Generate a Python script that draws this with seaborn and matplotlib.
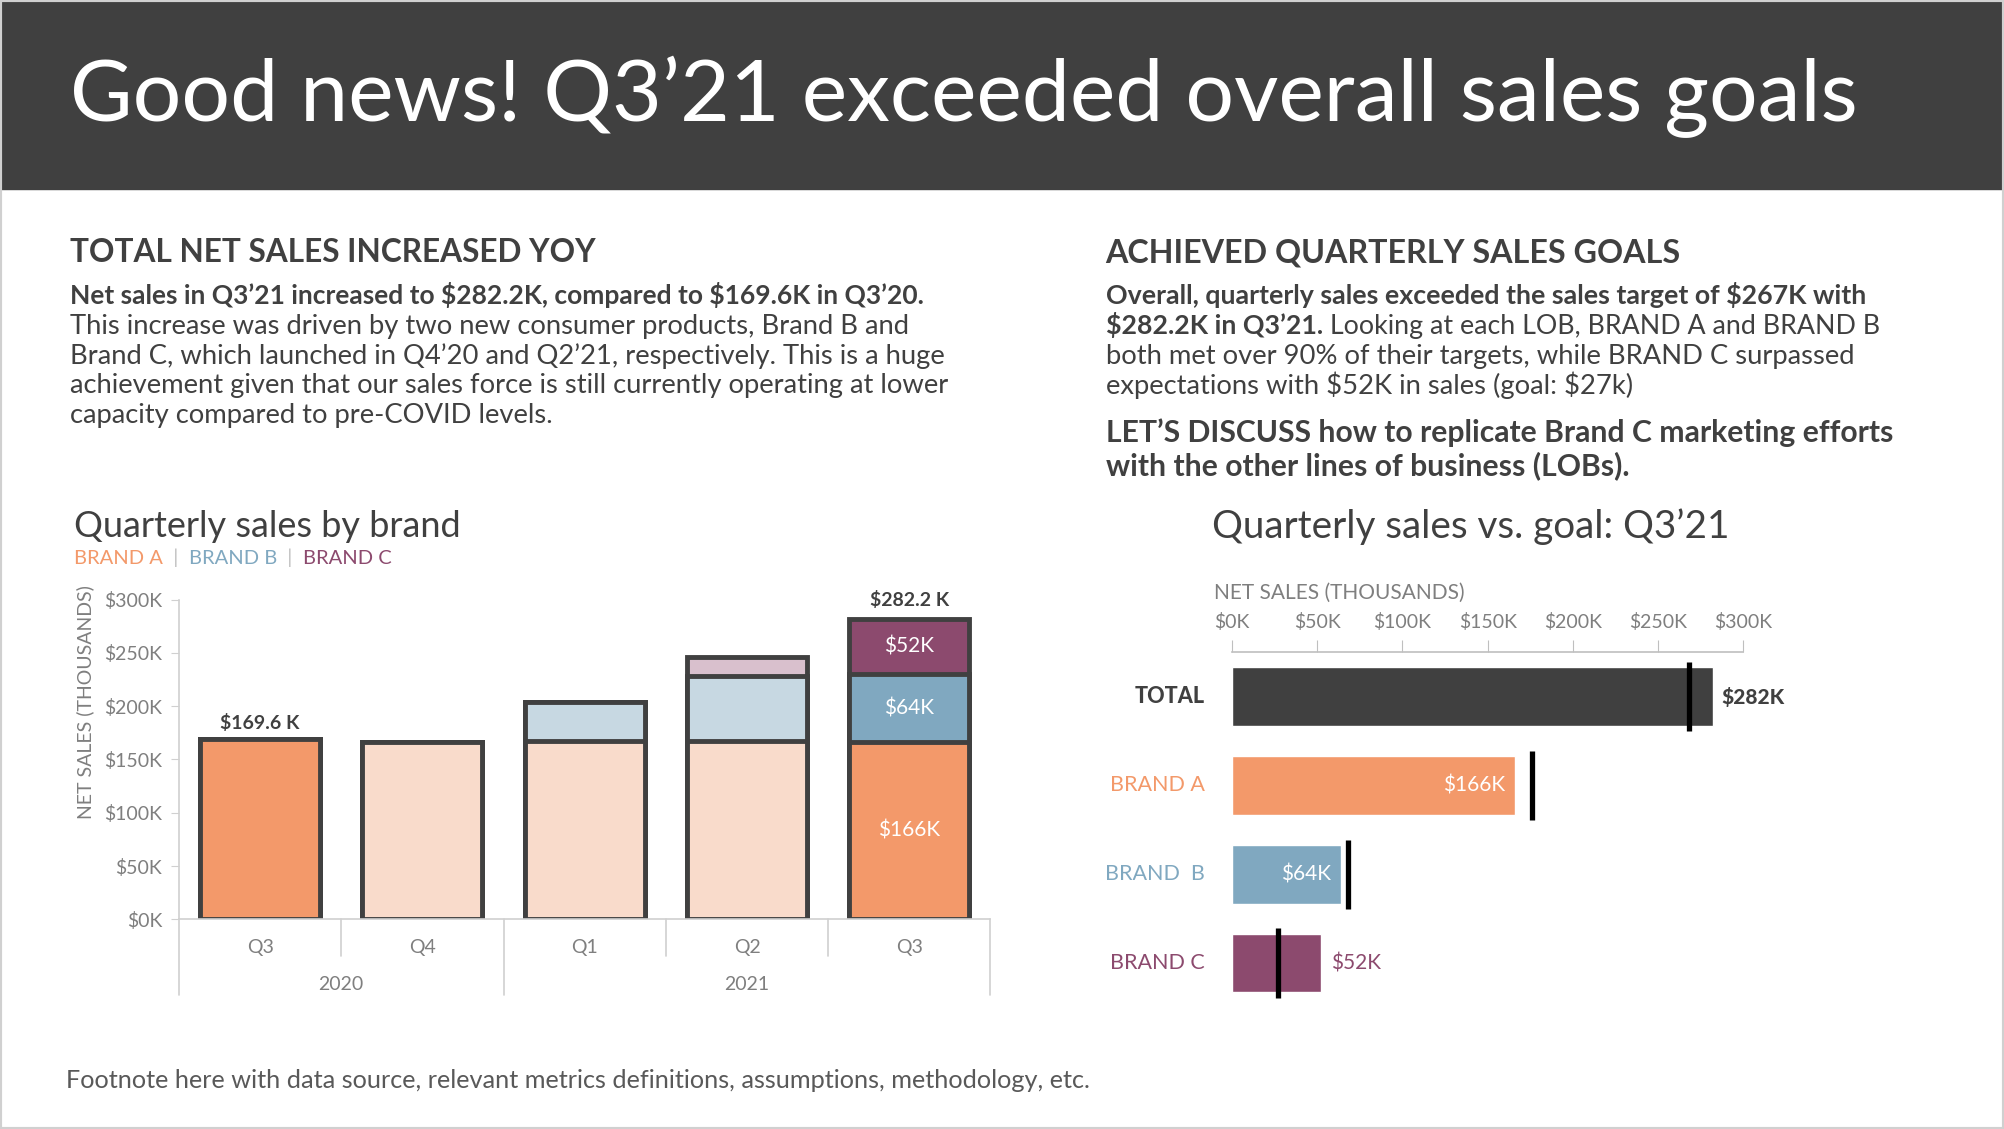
import matplotlib
matplotlib.use("Agg")
import numpy as np
import pandas as pd
import matplotlib.pyplot as plt
from matplotlib.patches import Rectangle
import matplotlib.transforms as mtransforms
import seaborn as sns

# ---- data ----
periods = ["Q3'20", "Q4'20", "Q1'21", "Q2'21", "Q3'21"]
quarter_labels = ["Q3", "Q4", "Q1", "Q2", "Q3"]
year_labels = ["2020", "2021"]
brand_a = [169.6, 166, 167, 167, 166]
brand_b = [0, 0, 37, 61, 64]
brand_c = [0, 0, 0, 18, 52]
highlight = [True, False, False, False, True]
y_ticks = [0, 50, 100, 150, 200, 250, 300]

lob_names = ["TOTAL", "BRAND A", "BRAND  B", "BRAND C"]
lob_sales = [282.2, 166, 64, 52]
lob_goals = [268, 176, 68, 27]
lob_value_labels = ["$282K", "$166K", "$64K", "$52K"]
x_ticks = [0, 50, 100, 150, 200, 250, 300]

# colours
DARK = "#404040"
GREY = "#7F7F7F"
A_DARK, A_LIGHT = "#F3996A", "#F9DBCB"
B_DARK, B_LIGHT = "#80A8C0", "#C7D8E2"
C_DARK, C_LIGHT = "#8C4A6E", "#D9C0CD"

sns.set_style("white")
plt.rcParams["font.family"] = ["Lato", "DejaVu Sans"]
plt.rcParams["text.parse_math"] = False

W, H = 1568, 883  # layout measured on a 1568x883 copy of the slide
def fx(x):
    return x / W
def fy(y):
    return 1 - y / H

fig = plt.figure(figsize=(20.04, 11.29), dpi=100)
renderer = fig.canvas.get_renderer()

def fit_size(text, width, weight="normal"):
    t = fig.text(0, 0, text, fontsize=10, fontweight=weight)
    w = t.get_window_extent(renderer).width
    t.remove()
    return 10 * (width * 2004 / W) / w

def runs(x, y, parts, size):
    for text, weight, color in parts:
        t = fig.text(fx(x), fy(y), text, fontsize=size, fontweight=weight,
                     color=color, va="baseline")
        bb = t.get_window_extent(renderer)
        x = bb.x1 / 2004 * W

# header band + frame
fig.patches.append(Rectangle((0, fy(148)), 1, 1 - fy(148), transform=fig.transFigure,
                             color=DARK, zorder=0))
fig.patches.append(Rectangle((0, 0), 1, 1, transform=fig.transFigure, fill=False,
                             edgecolor="#D0D0D0", lw=3, zorder=5))
title = "Good news! Q3\u201921 exceeded overall sales goals"
fig.text(fx(55), fy(95), title, color="white", va="baseline",
         fontsize=fit_size(title, 1400))

# ---- left text block ----
h1 = "TOTAL NET SALES INCREASED YOY"
fig.text(fx(55), fy(205), h1, color=DARK, fontweight="bold", va="baseline",
         fontsize=fit_size(h1, 413, "bold"))
l_bold = "Net sales in Q3\u201921 increased to $282.2K, compared to $169.6K in Q3\u201920."
l_lines = ["This increase was driven by two new consumer products, Brand B and",
           "Brand C, which launched in Q4\u201920 and Q2\u201921, respectively. This is a huge",
           "achievement given that our sales force is still currently operating at lower",
           "capacity compared to pre-COVID levels."]
fig.text(fx(55), fy(238), l_bold, color=DARK, fontweight="bold", va="baseline",
         fontsize=fit_size(l_bold, 670, "bold"))
body_size = fit_size(l_lines[2], 690)
for i, line in enumerate(l_lines):
    fig.text(fx(55), fy(261 + 23.3 * i), line, color=DARK, va="baseline", fontsize=body_size)

# ---- right text block ----
h2 = "ACHIEVED QUARTERLY SALES GOALS"
fig.text(fx(865), fy(205), h2, color=DARK, fontweight="bold", va="baseline",
         fontsize=fit_size(h2, 449, "bold"))
r_bold = "Overall, quarterly sales exceeded the sales target of $267K with"
bold_size = fit_size(r_bold, 597, "bold")
fig.text(fx(865), fy(238), r_bold, color=DARK, fontweight="bold", va="baseline",
         fontsize=bold_size)
runs(865, 261, [("$282.2K in Q3\u201921.", "bold", DARK),
                (" Looking at each LOB, BRAND A and BRAND B", "normal", DARK)], bold_size)
fig.text(fx(865), fy(285), "both met over 90% of their targets, while BRAND C surpassed",
         color=DARK, va="baseline", fontsize=body_size)
fig.text(fx(865), fy(308), "expectations with $52K in sales (goal: $27k)",
         color=DARK, va="baseline", fontsize=body_size)
d1 = "LET\u2019S DISCUSS how to replicate Brand C marketing efforts"
d_size = fit_size(d1, 617, "bold")
fig.text(fx(865), fy(346), d1, color=DARK, fontweight="bold", va="baseline", fontsize=d_size)
fig.text(fx(865), fy(372), "with the other lines of business (LOBs).", color=DARK,
         fontweight="bold", va="baseline", fontsize=d_size)

# ---- left chart: quarterly sales by brand ----
ct1 = "Quarterly sales by brand"
fig.text(fx(58), fy(420), ct1, color=DARK, va="baseline", fontsize=fit_size(ct1, 304))
runs(58, 441, [("BRAND A", "normal", A_DARK), ("  |  ", "normal", "#BFBFBF"),
               ("BRAND B", "normal", B_DARK), ("  |  ", "normal", "#BFBFBF"),
               ("BRAND C", "normal", C_DARK)], 14.5)
fig.text(fx(67), fy(549), "NET SALES (THOUSANDS)", rotation=90, color=GREY,
         ha="center", va="center", fontsize=14)

ax = fig.add_axes([fx(140), fy(719), 635 / W, 250 / H])
df = pd.DataFrame({"period": periods, "A": brand_a, "B": brand_b, "C": brand_c})
df["AB"] = df["A"] + df["B"]
df["ABC"] = df["AB"] + df["C"]
layers = [("ABC", C_DARK, C_LIGHT), ("AB", B_DARK, B_LIGHT), ("A", A_DARK, A_LIGHT)]
for col, dark_c, light_c in layers:
    pal = [dark_c if h else light_c for h in highlight]
    sns.barplot(data=df, x="period", y=col, hue="period", order=periods, hue_order=periods,
                palette=pal, saturation=1, legend=False, width=0.74,
                edgecolor=DARK, linewidth=3.5, ax=ax)

ax.set_xlim(-0.5, 4.5)
ax.set_ylim(0, 300)
ax.set_yticks(y_ticks)
ax.set_yticklabels([f"${v}K" for v in y_ticks], color=GREY, fontsize=14)
ax.set_xticks([])
ax.set_xlabel("")
ax.set_ylabel("")
for s in ["top", "right"]:
    ax.spines[s].set_visible(False)
for s in ["left", "bottom"]:
    ax.spines[s].set_color("#D0D0D0")
    ax.spines[s].set_linewidth(1.2)
ax.tick_params(axis="y", left=True, length=6, color="#D0D0D0", pad=6)

trans = mtransforms.blended_transform_factory(ax.transData, ax.transAxes)
for i, q in enumerate(quarter_labels):
    ax.text(i, -0.088, q, transform=trans, ha="center", va="center", color=GREY, fontsize=14)
ax.text(0.5, -0.203, year_labels[0], transform=trans, ha="center", va="center", color=GREY, fontsize=14)
ax.text(3, -0.203, year_labels[1], transform=trans, ha="center", va="center", color=GREY, fontsize=14)
for xb in [0.5, 2.5, 3.5]:
    ax.plot([xb, xb], [0, -0.116], transform=trans, color="#D0D0D0", lw=1.2, clip_on=False)
for xb in [-0.5, 1.5, 4.5]:
    ax.plot([xb, xb], [0, -0.236], transform=trans, color="#D0D0D0", lw=1.2, clip_on=False)

totals = df["ABC"].tolist()
ax.annotate(f"${totals[0]:.1f} K", (0, totals[0]), xytext=(0, 5), textcoords="offset points",
            ha="center", va="bottom", fontweight="bold", color=DARK, fontsize=14)
ax.annotate("$282.2 K", (4, totals[4]), xytext=(0, 7), textcoords="offset points",
            ha="center", va="bottom", fontweight="bold", color=DARK, fontsize=14)
for lo, val in [(0, brand_a[4]), (brand_a[4], brand_b[4]), (brand_a[4] + brand_b[4], brand_c[4])]:
    ax.text(4, lo + val / 2, f"${val:.0f}K", ha="center", va="center", color="white", fontsize=15)

# ---- right chart: sales vs goal ----
ct2 = "Quarterly sales vs. goal: Q3\u201921"
fig.text(fx(948), fy(421), ct2, color=DARK, va="baseline", fontsize=fit_size(ct2, 404))
fig.text(fx(950), fy(468), "NET SALES (THOUSANDS)", color=GREY, va="baseline", fontsize=15)

ax2 = fig.add_axes([fx(964), fy(788), 400 / W, 278 / H])
df2 = pd.DataFrame({"lob": lob_names, "sales": lob_sales, "goal": lob_goals})
lob_colors = [DARK, A_DARK, B_DARK, C_DARK]
sns.barplot(data=df2, y="lob", x="sales", hue="lob", order=lob_names, hue_order=lob_names,
            palette=lob_colors, saturation=1, legend=False, orient="h", width=0.66, ax=ax2)
pos = np.arange(len(lob_names))
ax2.vlines(df2["goal"], pos - 0.39, pos + 0.39, color="black", lw=3.8, zorder=4)
ax2.set_xlim(0, 300)
ax2.set_ylim(3.5, -0.5)
ax2.set_xticks(x_ticks)
ax2.set_xticklabels([f"${v}K" for v in x_ticks], color=GREY, fontsize=14)
ax2.xaxis.tick_top()
ax2.tick_params(axis="x", top=True, length=9, color="#BFBFBF", pad=6)
ax2.set_yticks([])
ax2.set_xlabel("")
ax2.set_ylabel("")
for s in ["bottom", "left", "right"]:
    ax2.spines[s].set_visible(False)
ax2.spines["top"].set_color("#BFBFBF")
ax2.spines["top"].set_linewidth(1.2)

# category labels drawn as text so each can carry its own colour / weight
trans2 = mtransforms.blended_transform_factory(ax2.transAxes, ax2.transData)
for i, (name, c) in enumerate(zip(lob_names, lob_colors)):
    ax2.text(-0.053, i, name, transform=trans2, ha="right", va="center", color=c,
             fontsize=15.5, fontweight="black" if i == 0 else "normal")

ax2.text(lob_sales[0] + 5, 0, lob_value_labels[0], va="center", ha="left",
         fontweight="black", color=DARK, fontsize=15)
ax2.text(lob_sales[1] - 6, 1, lob_value_labels[1], va="center", ha="right", color="white", fontsize=15)
ax2.text(lob_sales[2] - 6, 2, lob_value_labels[2], va="center", ha="right", color="white", fontsize=15)
ax2.text(lob_sales[3] + 6, 3, lob_value_labels[3], va="center", ha="left", color=C_DARK, fontsize=15)

# footnote
fn = "Footnote here with data source, relevant metrics definitions, assumptions, methodology, etc."
fig.text(fx(52), fy(851), fn, color="#595959", va="baseline", fontsize=fit_size(fn, 806))

fig.savefig("out.png", dpi=100, facecolor="white")
